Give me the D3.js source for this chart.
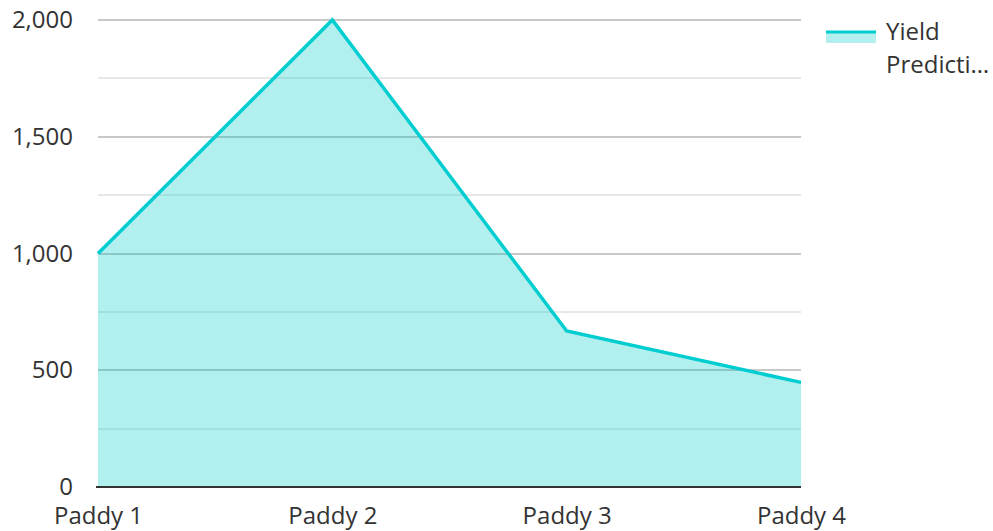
<!DOCTYPE html>
<html>
<head>
<meta charset="utf-8">
<script src="https://cdn.jsdelivr.net/npm/d3@7"></script>
<style>
  body { margin: 0; background: #fff; }
  svg text { font-family: "Open Sans", sans-serif; fill: #333; }
</style>
</head>
<body>
<svg id="chart" width="993" height="531"></svg>
<script>
const categories = ['Paddy 1', 'Paddy 2', 'Paddy 3', 'Paddy 4'];
const yieldValues = [1000, 2000, 668, 448];
const yTicks = [0, 500, 1000, 1500, 2000];
const minorTicks = [250, 750, 1250, 1750];
const seriesName = 'Yield Predicti…';

const lineColor = '#00cdd0';
const fillColor = '#00c9c9';
const m = {l: 98, r: 192, t: 20, b: 44};
const W = 993, H = 531;

const svg = d3.select('#chart');

const xS = d3.scalePoint().domain(categories).range([m.l, W - m.r]);
const yS = d3.scaleLinear().domain([0, 2000]).range([H - m.b, m.t]);

const data = categories.map((c, i) => ({cat: c, v: yieldValues[i]}));

// grid (drawn under the translucent area)
const grid = svg.append('g');
grid.selectAll('.minor').data(minorTicks).join('line')
  .attr('x1', m.l).attr('x2', W - m.r)
  .attr('y1', d => Math.round(yS(d))).attr('y2', d => Math.round(yS(d)))
  .attr('stroke', '#e8e8e8').attr('stroke-width', 2);
grid.selectAll('.major').data(yTicks.filter(d => d > 0)).join('line')
  .attr('x1', m.l).attr('x2', W - m.r)
  .attr('y1', d => Math.round(yS(d))).attr('y2', d => Math.round(yS(d)))
  .attr('stroke', '#c8c8c8').attr('stroke-width', 2);

// area + line
const area = d3.area().x(d => xS(d.cat)).y0(yS(0)).y1(d => yS(d.v));
const line = d3.line().x(d => xS(d.cat)).y(d => yS(d.v));

svg.append('path').datum(data)
  .attr('d', area)
  .attr('fill', fillColor).attr('fill-opacity', 0.3);
svg.append('path').datum(data)
  .attr('d', line)
  .attr('fill', 'none').attr('stroke', lineColor).attr('stroke-width', 3.5)
  .attr('stroke-linejoin', 'miter');

// y labels
const yAxis = d3.axisLeft(yS).tickValues(yTicks).tickSize(0).tickPadding(25)
  .tickFormat(d3.format(','));
svg.append('g').attr('transform', `translate(${m.l},0)`).call(yAxis)
  .call(g => g.select('.domain').remove())
  .selectAll('text').style('font-size', '24px').attr('fill', '#333')
  .style('font-family', '"Open Sans", sans-serif');

// x axis
const xAxis = d3.axisBottom(xS).tickSize(0).tickPadding(20);
svg.append('g').attr('transform', `translate(0,${yS(0)})`).call(xAxis)
  .call(g => g.select('.domain').remove())
  .selectAll('text').style('font-size', '24px').attr('fill', '#333')
  .style('font-family', '"Open Sans", sans-serif');
svg.append('line')
  .attr('x1', m.l - 2).attr('x2', W - m.r)
  .attr('y1', yS(0)).attr('y2', yS(0))
  .attr('stroke', '#333').attr('stroke-width', 2);

// legend
const lg = svg.append('g').attr('transform', 'translate(826,0)');
lg.append('rect').attr('x', 0).attr('y', 31).attr('width', 50).attr('height', 12)
  .attr('fill', fillColor).attr('fill-opacity', 0.3);
lg.append('line').attr('x1', 0).attr('x2', 50).attr('y1', 32).attr('y2', 32)
  .attr('stroke', lineColor).attr('stroke-width', 3);
const words = ['Yield', seriesName.replace('Yield ', '')];
lg.selectAll('.lt').data(words).join('text')
  .attr('x', 60).attr('y', (d, i) => 40 + i * 33)
  .style('font-size', '24px').attr('fill', '#333')
  .text(d => d);
</script>
</body>
</html>
